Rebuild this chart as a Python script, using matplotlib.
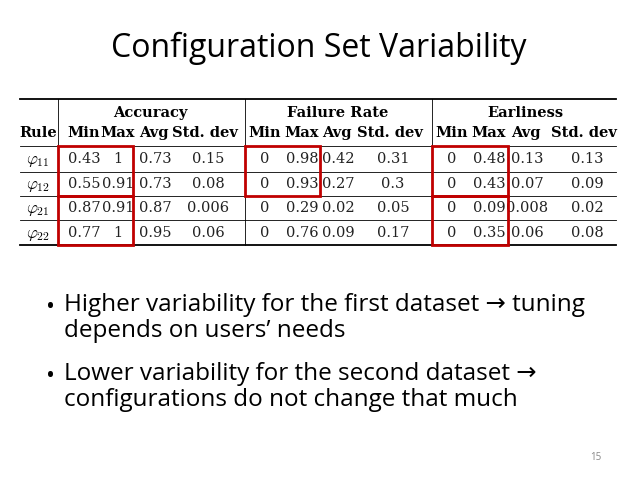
import matplotlib
matplotlib.use("Agg")
import matplotlib.pyplot as plt
from matplotlib.patches import Rectangle

plt.rcParams['mathtext.fontset'] = 'cm'

rules = [r'$\varphi_{\mathbf{11}}$', r'$\varphi_{\mathbf{12}}$', r'$\varphi_{\mathbf{21}}$', r'$\varphi_{\mathbf{22}}$']
groups = ['Accuracy', 'Failure Rate', 'Earliness']
subcols = ['Min', 'Max', 'Avg', 'Std. dev']
accuracy = [['0.43', '1', '0.73', '0.15'], ['0.55', '0.91', '0.73', '0.08'],
            ['0.87', '0.91', '0.87', '0.006'], ['0.77', '1', '0.95', '0.06']]
failure = [['0', '0.98', '0.42', '0.31'], ['0', '0.93', '0.27', '0.3'],
           ['0', '0.29', '0.02', '0.05'], ['0', '0.76', '0.09', '0.17']]
earliness = [['0', '0.48', '0.13', '0.13'], ['0', '0.43', '0.07', '0.09'],
             ['0', '0.09', '0.008', '0.02'], ['0', '0.35', '0.06', '0.08']]
bullets = ['Higher variability for the first dataset \u2192 tuning\ndepends on users\u2019 needs',
           'Lower variability for the second dataset \u2192\nconfigurations do not change that much']

fig = plt.figure(figsize=(6.38, 4.78), dpi=100)
ax = fig.add_axes([0, 0, 1, 1])
ax.set_xlim(0, 638); ax.set_ylim(478, 0); ax.axis('off')

sans = ['Open Sans', 'DejaVu Sans']
ax.text(319, 48, 'Configuration Set Variability', ha='center', va='center',
        fontsize=23, family=sans)

fs = 10.5
ser = 'DejaVu Serif'
ax.plot([20, 616], [99, 99], color='k', lw=1.3)
ax.plot([20, 616], [146, 146], color='k', lw=0.6)
for y in [172, 196, 220]:
    ax.plot([20, 616], [y, y], color='k', lw=0.6)
ax.plot([20, 616], [245, 245], color='k', lw=1.3)
for x in [58, 245, 432]:
    ax.plot([x, x], [99, 245], color='k', lw=0.6)

ax.text(38, 133, 'Rule', ha='center', va='center', fontsize=fs, family=ser, weight='bold')
gcent = [150, 338, 525]
colx = [[84, 118, 155, 208], [265, 302, 338, 393], [452, 489, 527, 587]]
data = [accuracy, failure, earliness]
for g, gx, cx, d in zip(groups, gcent, colx, data):
    ax.text(gx, 113, g, ha='center', va='center', fontsize=fs, family=ser, weight='bold')
    hx = [cx[0], cx[1], cx[2] - 1, cx[3] - 3]
    for s, x in zip(subcols, hx):
        ax.text(x, 133, s, ha='center', va='center', fontsize=fs, family=ser, weight='bold')
    for r, row in enumerate(d):
        y = [159, 184, 208, 233][r]
        for v, x in zip(row, cx):
            ax.text(x, y, v, ha='center', va='center', fontsize=fs, family=ser, color='#222222')
for r, lab in enumerate(rules):
    ax.text(38, [160, 185, 209, 234][r], lab, ha='center', va='center', fontsize=fs + 1.5)

red = '#c00000'
for (x0, x1, y0, y1) in [(58, 133, 146, 196), (58, 133, 196, 245), (245, 320, 146, 196),
                         (432, 508, 146, 196), (432, 508, 196, 245)]:
    ax.add_patch(Rectangle((x0, y0), x1 - x0, y1 - y0, fill=False, ec=red, lw=2, zorder=5))

for b, y in zip(bullets, [308, 377]):
    ax.text(50, y, '\u2022', ha='center', va='center', fontsize=17, family=sans)
    ax.text(64, y - 15, b, ha='left', va='top', fontsize=17.5, family=sans, linespacing=1.1)

ax.text(596, 457, '15', ha='center', va='center', fontsize=7, color='#888888', family=sans)
fig.savefig('out.png', dpi=100)
